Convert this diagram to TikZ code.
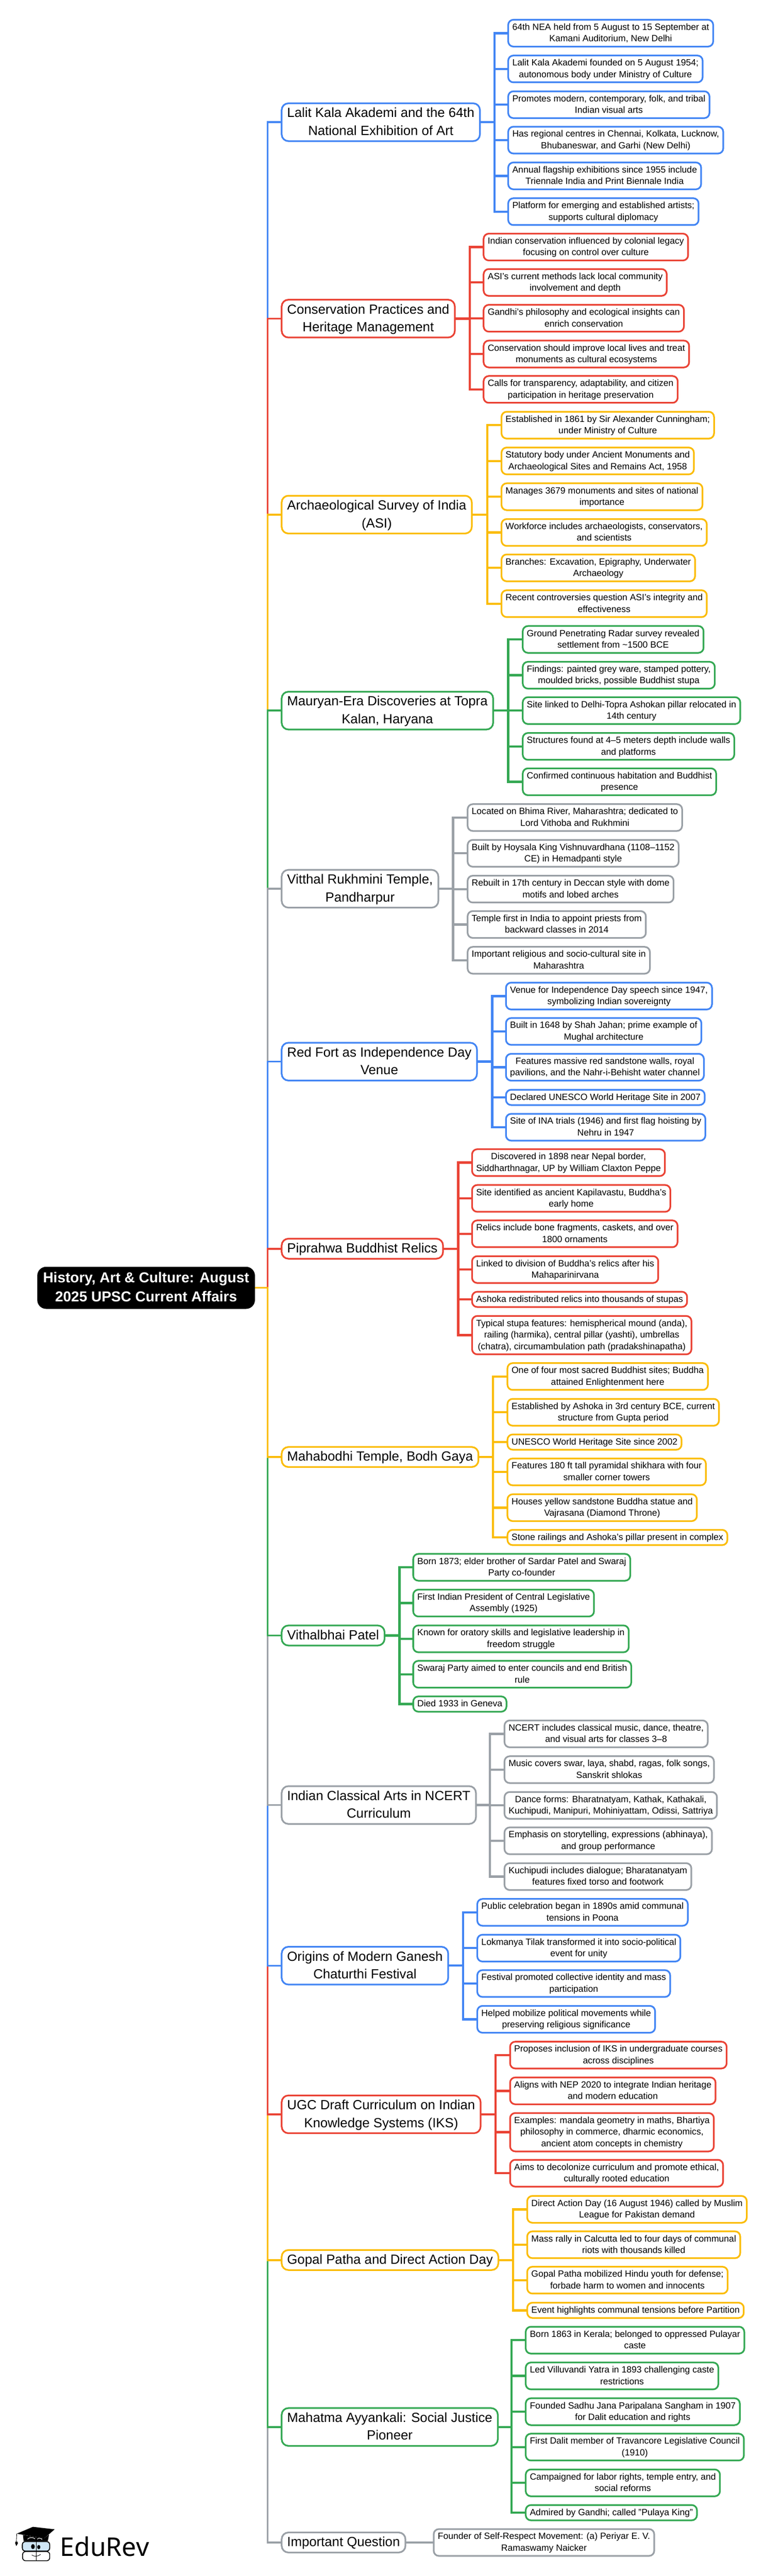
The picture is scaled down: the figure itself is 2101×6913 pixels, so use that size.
\documentclass[tikz,border=0pt]{standalone}
\usepackage{fontspec}
\setmainfont{Liberation Sans}
\newfontfamily\logofont{Noto Sans}
\usetikzlibrary{positioning}

\definecolor{eblue}{HTML}{4285F4}
\definecolor{ered}{HTML}{EA4335}
\definecolor{eyellow}{HTML}{FBBC04}
\definecolor{egreen}{HTML}{34A853}
\definecolor{egrey}{HTML}{9AA0A6}
\definecolor{glass}{HTML}{CFE6F5}

\newcommand{\vstrut}{\rule[-.27\baselineskip]{0pt}{\baselineskip}}
\newcommand{\boxtext}[1]{\vstrut#1\vstrut}

\begin{document}
\begin{tikzpicture}[
x=1pt,
y=-1pt,
box/.style={
  fill=white,
  outer sep=0pt,
  align=center,
  anchor=west
  },
topic/.style={
  box,
  draw=#1,
  line width=4.5pt,
  rounded corners=18pt,
  font=\fontsize{35.6}{47.7}\selectfont,
  inner xsep=14.7pt,
  inner ysep=3pt
  },
leaf/.style={
  box,
  draw=#1,
  line width=4.5pt,
  rounded corners=14pt,
  font=\fontsize{24.3}{31}\selectfont,
  inner xsep=11pt,
  inner ysep=5pt
  },
rootbox/.style={
  box,
  fill=black,
  text=white,
  rounded corners=24pt,
  font=\fontsize{38.7}{50.7}\selectfont\bfseries,
  inner xsep=15.5pt,
  inner ysep=5.8pt
  },
spinewire/.style={line width=5pt},
leafwire/.style={line width=6pt}
]
\useasboundingbox (0,0) rectangle (2101,6913);

\node[rootbox] (root) at (100,3456) {\boxtext{History, Art \& Culture: August\\2025 UPSC Current Affairs}};
\coordinate (spine) at (718,3456);

% topics
\node[topic=eblue] (lalit) at (756,328) {\boxtext{Lalit Kala Akademi and the 64th\\National Exhibition of Art}};
\node[topic=ered] (cons) at (756,855) {\boxtext{Conservation Practices and\\Heritage Management}};
\node[topic=eyellow] (asi) at (756,1381) {\boxtext{Archaeological Survey of India\\(ASI)}};
\node[topic=egreen] (maur) at (756,1907) {\boxtext{Mauryan-Era Discoveries at Topra\\Kalan, Haryana}};
\node[topic=egrey] (vitt) at (756,2385) {\boxtext{Vitthal Rukhmini Temple,\\Pandharpur}};
\node[topic=eblue] (fort) at (756,2849) {\boxtext{Red Fort as Independence Day\\Venue}};
\node[topic=ered] (pipr) at (756,3351) {\boxtext{Piprahwa Buddhist Relics}};
\node[topic=eyellow] (maha) at (756,3910) {\boxtext{Mahabodhi Temple, Bodh Gaya}};
\node[topic=egreen] (patel) at (756,4389) {\boxtext{Vithalbhai Patel}};
\node[topic=egrey] (ncert) at (756,4844) {\boxtext{Indian Classical Arts in NCERT\\Curriculum}};
\node[topic=eblue] (gane) at (756,5275) {\boxtext{Origins of Modern Ganesh\\Chaturthi Festival}};
\node[topic=ered] (iks) at (756,5674) {\boxtext{UGC Draft Curriculum on Indian\\Knowledge Systems (IKS)}};
\node[topic=eyellow] (gopal) at (756,6065) {\boxtext{Gopal Patha and Direct Action Day}};
\node[topic=egreen] (ayya) at (756,6513) {\boxtext{Mahatma Ayyankali: Social Justice\\Pioneer}};
\node[topic=egrey] (ques) at (756,6823) {\boxtext{Important Question}};

% leaves
\foreach \i/\y/\txt in {
  1/89/{64th NEA held from 5 August to 15 September at\\Kamani Auditorium, New Delhi},
  2/185/{Lalit Kala Akademi founded on 5 August 1954;\\autonomous body under Ministry of Culture},
  3/281/{Promotes modern, contemporary, folk, and tribal\\Indian visual arts},
  4/376/{Has regional centres in Chennai, Kolkata, Lucknow,\\Bhubaneswar, and Garhi (New Delhi)},
  5/472/{Annual flagship exhibitions since 1955 include\\Triennale India and Print Biennale India},
  6/568/{Platform for emerging and established artists;\\supports cultural diplomacy}}
  \node[leaf=eblue] (lalit-\i) at (1364,\y) {\boxtext{\txt}};

\foreach \i/\y/\txt in {
  1/663/{Indian conservation influenced by colonial legacy\\focusing on control over culture},
  2/758/{ASI's current methods lack local community\\involvement and depth},
  3/854/{Gandhi's philosophy and ecological insights can\\enrich conservation},
  4/950/{Conservation should improve local lives and treat\\monuments as cultural ecosystems},
  5/1045/{Calls for transparency, adaptability, and citizen\\participation in heritage preservation}}
  \node[leaf=ered] (cons-\i) at (1298,\y) {\boxtext{\txt}};

\foreach \i/\y/\txt in {
  1/1141/{Established in 1861 by Sir Alexander Cunningham;\\under Ministry of Culture},
  2/1237/{Statutory body under Ancient Monuments and\\Archaeological Sites and Remains Act, 1958},
  3/1333/{Manages 3679 monuments and sites of national\\importance},
  4/1429/{Workforce includes archaeologists, conservators,\\and scientists},
  5/1524/{Branches: Excavation, Epigraphy, Underwater\\Archaeology},
  6/1620/{Recent controversies question ASI's integrity and\\effectiveness}}
  \node[leaf=eyellow] (asi-\i) at (1346,\y) {\boxtext{\txt}};

\foreach \i/\y/\txt in {
  1/1716/{Ground Penetrating Radar survey revealed\\settlement from \textasciitilde 1500 BCE},
  2/1812/{Findings: painted grey ware, stamped pottery,\\moulded bricks, possible Buddhist stupa},
  3/1907/{Site linked to Delhi-Topra Ashokan pillar relocated in\\14th century},
  4/2003/{Structures found at 4–5 meters depth include walls\\and platforms},
  5/2098/{Confirmed continuous habitation and Buddhist\\presence}}
  \node[leaf=egreen] (maur-\i) at (1403,\y) {\boxtext{\txt}};

\foreach \i/\y/\txt in {
  1/2194/{Located on Bhima River, Maharashtra; dedicated to\\Lord Vithoba and Rukhmini},
  2/2290/{Built by Hoysala King Vishnuvardhana (1108–1152\\CE) in Hemadpanti style},
  3/2386/{Rebuilt in 17th century in Deccan style with dome\\motifs and lobed arches},
  4/2481/{Temple first in India to appoint priests from\\backward classes in 2014},
  5/2577/{Important religious and socio-cultural site in\\Maharashtra}}
  \node[leaf=egrey] (vitt-\i) at (1255,\y) {\boxtext{\txt}};

\foreach \i/\y/\txt in {
  1/2673/{Venue for Independence Day speech since 1947,\\symbolizing Indian sovereignty},
  2/2768/{Built in 1648 by Shah Jahan; prime example of\\Mughal architecture},
  3/2864/{Features massive red sandstone walls, royal\\pavilions, and the Nahr-i-Behisht water channel},
  4/2945/{Declared UNESCO World Heritage Site in 2007},
  5/3025/{Site of INA trials (1946) and first flag hoisting by\\Nehru in 1947}}
  \node[leaf=eblue] (fort-\i) at (1358,\y) {\boxtext{\txt}};

\foreach \i/\y/\txt in {
  1/3120/{Discovered in 1898 near Nepal border,\\Siddharthnagar, UP by William Claxton Peppe},
  2/3216/{Site identified as ancient Kapilavastu, Buddha's\\early home},
  3/3311/{Relics include bone fragments, caskets, and over\\1800 ornaments},
  4/3407/{Linked to division of Buddha's relics after his\\Mahaparinirvana},
  5/3487/{Ashoka redistributed relics into thousands of stupas},
  6/3583/{Typical stupa features: hemispherical mound (anda),\\railing (harmika), central pillar (yashti), umbrellas\\(chatra), circumambulation path (pradakshinapatha)}}
  \node[leaf=ered] (pipr-\i) at (1267,\y) {\boxtext{\txt}};

\foreach \i/\y/\txt in {
  1/3694/{One of four most sacred Buddhist sites; Buddha\\attained Enlightenment here},
  2/3790/{Established by Ashoka in 3rd century BCE, current\\structure from Gupta period},
  3/3870/{UNESCO World Heritage Site since 2002},
  4/3950/{Features 180 ft tall pyramidal shikhara with four\\smaller corner towers},
  5/4046/{Houses yellow sandstone Buddha statue and\\Vajrasana (Diamond Throne)},
  6/4126/{Stone railings and Ashoka's pillar present in complex}}
  \node[leaf=eyellow] (maha-\i) at (1362,\y) {\boxtext{\txt}};

\foreach \i/\y/\txt in {
  1/4206/{Born 1873; elder brother of Sardar Patel and Swaraj\\Party co-founder},
  2/4302/{First Indian President of Central Legislative\\Assembly (1925)},
  3/4398/{Known for oratory skills and legislative leadership in\\freedom struggle},
  4/4493/{Swaraj Party aimed to enter councils and end British\\rule},
  5/4573/{Died 1933 in Geneva}}
  \node[leaf=egreen] (patel-\i) at (1109,\y) {\boxtext{\txt}};

\foreach \i/\y/\txt in {
  1/4653/{NCERT includes classical music, dance, theatre,\\and visual arts for classes 3–8},
  2/4749/{Music covers swar, laya, shabd, ragas, folk songs,\\Sanskrit shlokas},
  3/4845/{Dance forms: Bharatnatyam, Kathak, Kathakali,\\Kuchipudi, Manipuri, Mohiniyattam, Odissi, Sattriya},
  4/4940/{Emphasis on storytelling, expressions (abhinaya),\\and group performance},
  5/5036/{Kuchipudi includes dialogue; Bharatanatyam\\features fixed torso and footwork}}
  \node[leaf=egrey] (ncert-\i) at (1354,\y) {\boxtext{\txt}};

\foreach \i/\y/\txt in {
  1/5132/{Public celebration began in 1890s amid communal\\tensions in Poona},
  2/5228/{Lokmanya Tilak transformed it into socio-political\\event for unity},
  3/5323/{Festival promoted collective identity and mass\\participation},
  4/5419/{Helped mobilize political movements while\\preserving religious significance}}
  \node[leaf=eblue] (gane-\i) at (1281,\y) {\boxtext{\txt}};

\foreach \i/\y/\txt in {
  1/5515/{Proposes inclusion of IKS in undergraduate courses\\across disciplines},
  2/5611/{Aligns with NEP 2020 to integrate Indian heritage\\and modern education},
  3/5722/{Examples: mandala geometry in maths, Bhartiya\\philosophy in commerce, dharmic economics,\\ancient atom concepts in chemistry},
  4/5832/{Aims to decolonize curriculum and promote ethical,\\culturally rooted education}}
  \node[leaf=ered] (iks-\i) at (1369,\y) {\boxtext{\txt}};

\foreach \i/\y/\txt in {
  1/5929/{Direct Action Day (16 August 1946) called by Muslim\\League for Pakistan demand},
  2/6024/{Mass rally in Calcutta led to four days of communal\\riots with thousands killed},
  3/6119/{Gopal Patha mobilized Hindu youth for defense;\\forbade harm to women and innocents},
  4/6200/{Event highlights communal tensions before Partition}}
  \node[leaf=eyellow] (gopal-\i) at (1415,\y) {\boxtext{\txt}};

\foreach \i/\y/\txt in {
  1/6280/{Born 1863 in Kerala; belonged to oppressed Pulayar\\caste},
  2/6376/{Led Villuvandi Yatra in 1893 challenging caste\\restrictions},
  3/6472/{Founded Sadhu Jana Paripalana Sangham in 1907\\for Dalit education and rights},
  4/6567/{First Dalit member of Travancore Legislative Council\\(1910)},
  5/6663/{Campaigned for labor rights, temple entry, and\\social reforms},
  6/6743/{Admired by Gandhi; called "Pulaya King"}}
  \node[leaf=egreen] (ayya-\i) at (1411,\y) {\boxtext{\txt}};

\node[leaf=egrey] (ques-1) at (1164,6823) {\boxtext{Founder of Self-Respect Movement: (a) Periyar E. V.\\Ramaswamy Naicker}};

% root to topics, upper ones first, then lower ones from the bottom up
\foreach \b/\c in {lalit/eblue,cons/ered,asi/eyellow,maur/egreen,vitt/egrey,fort/eblue,pipr/ered,
  ques/egrey,ayya/egreen,gopal/eyellow,iks/ered,gane/eblue,ncert/egrey,patel/egreen,maha/eyellow}
  \draw[spinewire,\c] (root.east) -- (spine) |- (\b.west);

% topics to leaves
\foreach \b/\tx/\n/\c in {lalit/1327/6/eblue,cons/1261/5/ered,asi/1308/6/eyellow,maur/1364/5/egreen,
  vitt/1216/5/egrey,fort/1321/5/eblue,pipr/1230/6/ered,maha/1323/6/eyellow,patel/1072/5/egreen,
  ncert/1315/5/egrey,gane/1243/4/eblue,iks/1330/4/ered,gopal/1377/4/eyellow,ayya/1373/6/egreen,ques/1126/1/egrey}
  \foreach \i in {1,...,\n}
    \draw[leafwire,\c] (\b.east) -- (\tx,0 |- \b.east) |- (\b-\i.west);

% logo
\begin{scope}[shift={(20,6760)},scale=1/3]
\fill (205,63) -- (380,83) -- (295,157) -- (75,118) -- cycle;
\fill (125,128) -- (295,157) -- (335,125) -- (325,178) -- (130,178) -- cycle;
\draw[white,line width=1.5pt] (162,162) .. controls (180,145) and (205,145) .. (222,160);
\draw[white,line width=1.5pt] (240,162) .. controls (250,152) and (268,152) .. (280,165);
\draw[line width=1.2pt] (75,118) -- (72,182);
\fill (64,182) -- (80,182) -- (84,195) -- (72,218) -- (62,195) -- cycle;
\draw[fill=white,line width=2.2pt,rounded corners=8pt] (122,262) rectangle (340,336);
\draw[fill=glass,line width=2.5pt,rounded corners=8pt] (120,182) rectangle (340,258);
\draw[line width=2pt] (232,172) -- (232,340);
\fill (205,222) ellipse [x radius=15,y radius=20];
\fill (252,226) ellipse [x radius=13,y radius=17];
\draw[line width=1.2pt] (196,290) .. controls (220,305) and (245,302) .. (268,284);
\end{scope}
\node[font=\logofont\fontsize{69}{80}\selectfont\bfseries,anchor=base west,inner sep=0pt] (brand) at (161,6859) {EduRev};
\end{tikzpicture}
\end{document}
